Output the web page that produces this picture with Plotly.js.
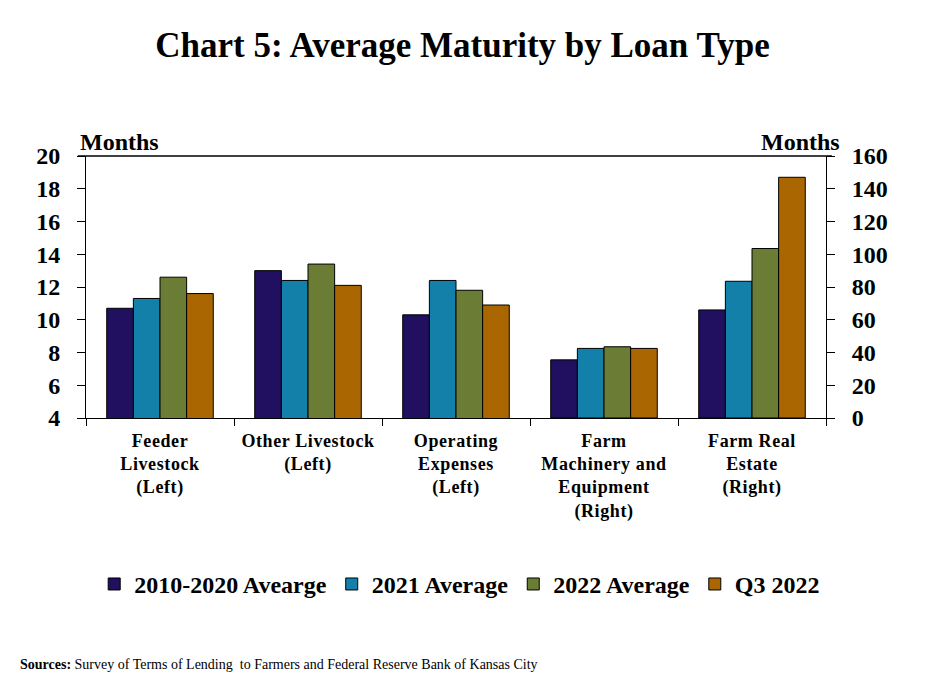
<!DOCTYPE html>
<html>
<head>
<meta charset="utf-8">
<script src="https://cdn.plot.ly/plotly-3.0.1.min.js"></script>
<style>
  body { margin: 0; background: #fff; }
  #chart { width: 925px; height: 693px; }
  .xtick text { letter-spacing: 0.6px; }
</style>
</head>
<body>
<div id="chart"></div>
<script>
"use strict";

// Categories, left axis group and right axis group
var leftCats = ["Feeder<br>Livestock<br>(Left)", "Other Livestock<br>(Left)", "Operating<br>Expenses<br>(Left)"]
var rightCats = ["Farm<br>Machinery and<br>Equipment<br>(Right)", "Farm Real<br>Estate<br>(Right)"]

var seriesNames = ["2010-2020 Avearge", "2021 Average", "2022 Average", "Q3 2022"]
var seriesColors = ["#20105f", "#1380aa", "#6b7d35", "#aa6600"]

// Months
var avg2010Left = [10.7, 13.0, 10.3]
var avg2021Left = [11.3, 12.4, 12.4]
var avg2022Left = [12.6, 13.4, 11.8]
var q32022Left = [11.6, 12.1, 10.9]

// Months
var avg2010Right = [35.5, 66]
var avg2021Right = [42.5, 83.5]
var avg2022Right = [43.5, 103.5]
var q32022Right = [42.5, 147]

var leftValues = [avg2010Left, avg2021Left, avg2022Left, q32022Left]
var rightValues = [avg2010Right, avg2021Right, avg2022Right, q32022Right]

var traces = []
for (var i = 0; i < seriesNames.length; i++) {
  traces.push({
    type: "bar",
    x: leftCats,
    y: leftValues[i],
    name: seriesNames[i],
    legendgroup: seriesNames[i],
    marker: { color: seriesColors[i], line: { color: "#000", width: 1 } },
    yaxis: "y",
    hoverinfo: "y"
  })
}
for (var j = 0; j < seriesNames.length; j++) {
  traces.push({
    type: "bar",
    x: rightCats,
    y: rightValues[j],
    name: seriesNames[j],
    legendgroup: seriesNames[j],
    showlegend: false,
    marker: { color: seriesColors[j], line: { color: "#000", width: 1 } },
    yaxis: "y2",
    hoverinfo: "y"
  })
}

var serif = "Liberation Serif, Times New Roman, serif"

var layout = {
  width: 925,
  height: 693,
  margin: { l: 86, r: 99, t: 156, b: 275 },
  paper_bgcolor: "#fff",
  plot_bgcolor: "#fff",
  font: { family: serif, color: "#000" },
  title: {
    text: "<b>Chart 5: Average Maturity by Loan Type</b>",
    font: { family: serif, size: 35, color: "#000" },
    x: 0.5, xanchor: "center",
    y: 0.935, yanchor: "middle", yref: "container"
  },
  barmode: "group",
  bargap: 0.28,
  bargroupgap: 0,
  xaxis: {
    type: "category",
    categoryorder: "array",
    categoryarray: leftCats.concat(rightCats),
    showline: true, linecolor: "#000", linewidth: 1,
    ticks: "outside", tickson: "boundaries", ticklen: 7, tickcolor: "#000",
    tickfont: { family: serif, size: 18, color: "#000", weight: "bold" },
    ticklabelstandoff: 6,
    tickangle: 0,
    showgrid: false,
    fixedrange: true
  },
  yaxis: {
    range: [4, 20],
    dtick: 2,
    showline: true, linecolor: "#000", linewidth: 1,
    ticks: "outside", ticklen: 8, tickcolor: "#000",
    tickfont: { family: serif, size: 24, color: "#000", weight: "bold" },
    ticklabelstandoff: 12,
    showgrid: false, zeroline: false,
    fixedrange: true
  },
  yaxis2: {
    range: [0, 160],
    dtick: 20,
    overlaying: "y",
    side: "right",
    showline: true, linecolor: "#000", linewidth: 1,
    ticks: "outside", ticklen: 8, tickcolor: "#000",
    tickfont: { family: serif, size: 24, color: "#000", weight: "bold" },
    ticklabelstandoff: 12,
    showgrid: false, zeroline: false,
    fixedrange: true
  },
  legend: {
    orientation: "h",
    x: 0.505, xanchor: "center",
    y: -0.635, yanchor: "middle",
    font: { family: serif, size: 24, color: "#000", weight: "bold" },
    itemwidth: 30,
    traceorder: "normal"
  },
  shapes: [
    // top border runs a little past both axes
    {
      type: "line", xref: "paper", yref: "paper",
      x0: -0.011, x1: 1.008, y0: 1, y1: 1,
      line: { color: "#000", width: 1.5 }
    }
  ],
  annotations: [
    {
      text: "<b>Months</b>", xref: "paper", yref: "paper",
      x: -0.011, y: 0.995, xanchor: "left", yanchor: "bottom",
      showarrow: false, font: { family: serif, size: 24, color: "#000" }
    },
    {
      text: "<b>Months</b>", xref: "paper", yref: "paper",
      x: 1.022, y: 0.995, xanchor: "right", yanchor: "bottom",
      showarrow: false, font: { family: serif, size: 24, color: "#000" }
    },
    {
      text: "<b>Sources:</b> Survey of Terms of Lending  to Farmers and Federal Reserve Bank of Kansas City",
      xref: "paper", yref: "paper",
      x: -0.092, y: -0.94, xanchor: "left", yanchor: "middle",
      showarrow: false, font: { family: serif, size: 14, color: "#000" }
    }
  ]
}

Plotly.newPlot("chart", traces, layout, { displayModeBar: false, staticPlot: true })
</script>
</body>
</html>
